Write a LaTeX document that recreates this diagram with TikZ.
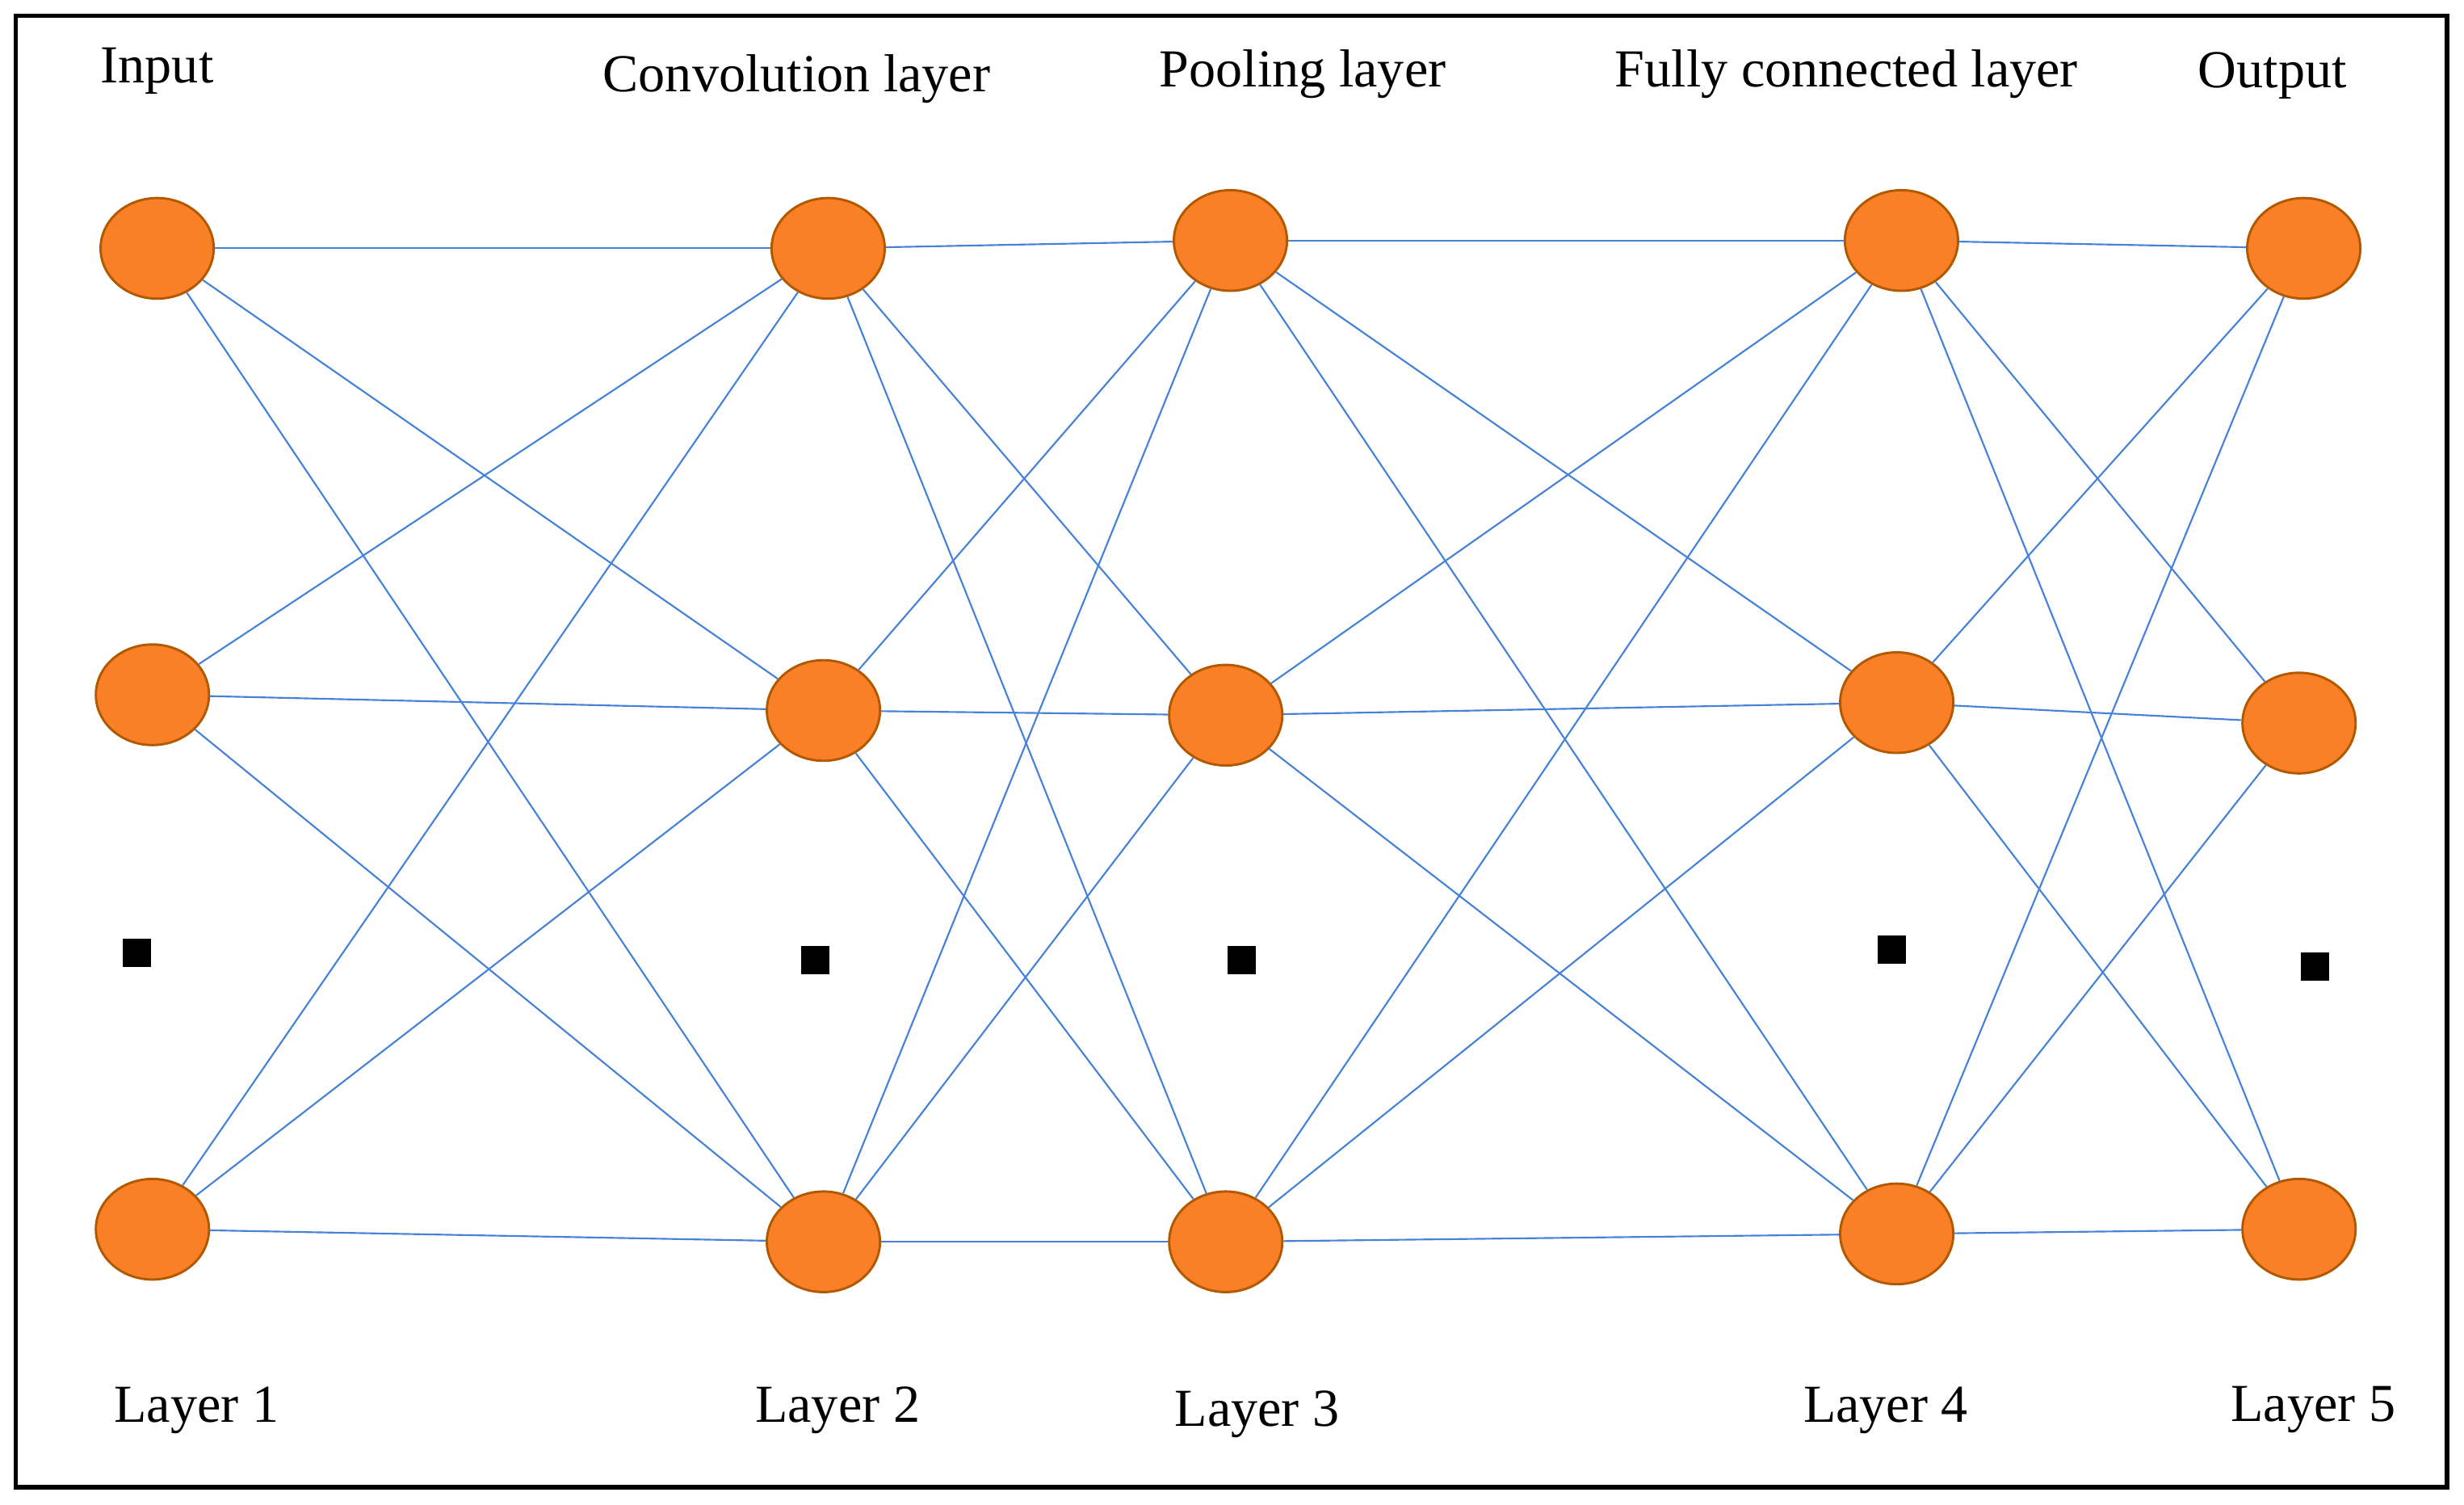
\documentclass[tikz,border=0pt]{standalone}
\usepackage{fontspec}
\setmainfont{Liberation Serif}
\begin{document}
\begin{tikzpicture}[x=1pt,y=-1pt,
  neuron/.style={ellipse,draw=orange!70!black,line width=1.5pt,fill={rgb,255:red,250;green,128;blue,40},minimum width=72pt,minimum height=64pt,inner sep=0pt},
  dot/.style={fill=black,minimum size=18pt,inner sep=0pt},
  conn/.style={draw={rgb,255:red,70;green,130;blue,215},line width=1.1pt},
  lbl/.style={font=\fontsize{34}{40}\selectfont}]
\usetikzlibrary{shapes.geometric}
\useasboundingbox (0,0) rectangle (1568,957);
\draw[line width=3pt] (10,10) rectangle (1557,946);
\foreach \n/\x/\y in {a1/100/158,a2/97/442,a3/97/782,
 b1/527/158,b2/524/452,b3/524/790,
 c1/783/153,c2/780/455,c3/780/790,
 d1/1210/153,d2/1207/447,d3/1207/785,
 e1/1466/158,e2/1463/460,e3/1463/782}
 \node[neuron] (\n) at (\x,\y) {};
\begin{scope}[on background layer/.style={}]
\foreach \p/\q in {a/b,b/c,c/d,d/e}
 \foreach \i in {1,2,3}
  \foreach \j in {1,2,3}
   \draw[conn] (\p\i) -- (\q\j);
\end{scope}
\foreach \n/\x/\y in {s1/87/606,s2/519/611,s3/790/611,s4/1204/604,s5/1473/615}
 \node[dot] (\n) at (\x,\y) {};
\node[lbl] (t1) at (100,45) {Input};
\node[lbl] (t2) at (507,50) {Convolution layer};
\node[lbl] (t3) at (829,47) {Pooling layer};
\node[lbl] (t4) at (1175,47) {Fully connected layer};
\node[lbl] (t5) at (1446,48) {Output};
\node[lbl] (l1) at (125,897) {Layer 1};
\node[lbl] (l2) at (533,897) {Layer 2};
\node[lbl] (l3) at (800,900) {Layer 3};
\node[lbl] (l4) at (1200,897) {Layer 4};
\node[lbl] (l5) at (1472,897) {Layer 5};
\end{tikzpicture}
\end{document}
